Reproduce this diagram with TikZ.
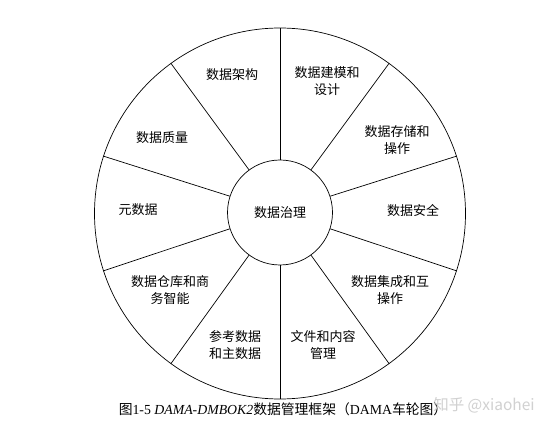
\documentclass[tikz,border=0pt]{standalone}
\usepackage{fontspec}
\setmainfont{Liberation Serif}
\newfontfamily\cjk{Noto Sans CJK SC}
\begin{document}
\begin{tikzpicture}[x=1pt,y=-1pt,
  ring/.style={circle,draw,line width=0.7pt,inner sep=0pt},
  spoke/.style={line width=0.7pt},
  lab/.style={font=\cjk\fontsize{13}{17}\selectfont,align=center,inner sep=0pt}]
\useasboundingbox[fill=white] (0,0) rectangle (554,430);
\node[ring,minimum size=371pt] (outer) at (280,213.5) {};
\node[ring,minimum size=105pt,fill=white] (hub) at (280,212.5) {};
\foreach \a in {90,54,18,-18,-54,-90,-126,-162,162,126}
  \draw[spoke] (hub.\a) -- (outer.\a);
\node[lab] (gov) at (280,212.5) {数据治理};
\node[lab] (arch) at (232,75) {数据架构};
\node[lab] (model) at (327,81.5) {数据建模和\\设计};
\node[lab] (store) at (397,140) {数据存储和\\操作};
\node[lab] (sec) at (413,211) {数据安全};
\node[lab] (integ) at (390,290.5) {数据集成和互\\操作};
\node[lab] (doc) at (323,345.5) {文件和内容\\管理};
\node[lab] (ref) at (235,345.5) {参考数据\\和主数据};
\node[lab] (dw) at (170,290.5) {数据仓库和商\\务智能};
\node[lab] (meta) at (138,210) {元数据};
\node[lab] (qual) at (162,138) {数据质量};
\node[inner sep=0pt,font=\fontsize{13.8}{16}\selectfont] (cap) at (283,409)
  {{\cjk 图}1-5 \textit{DAMA-DMBOK2}{\cjk 数据管理框架（}DAMA{\cjk 车轮图）}};
\node[inner sep=0pt,text=black!18,font=\cjk\fontsize{15.5}{17}\selectfont] (wm) at (484,405) {知乎 @xiaohei};
\end{tikzpicture}
\end{document}
